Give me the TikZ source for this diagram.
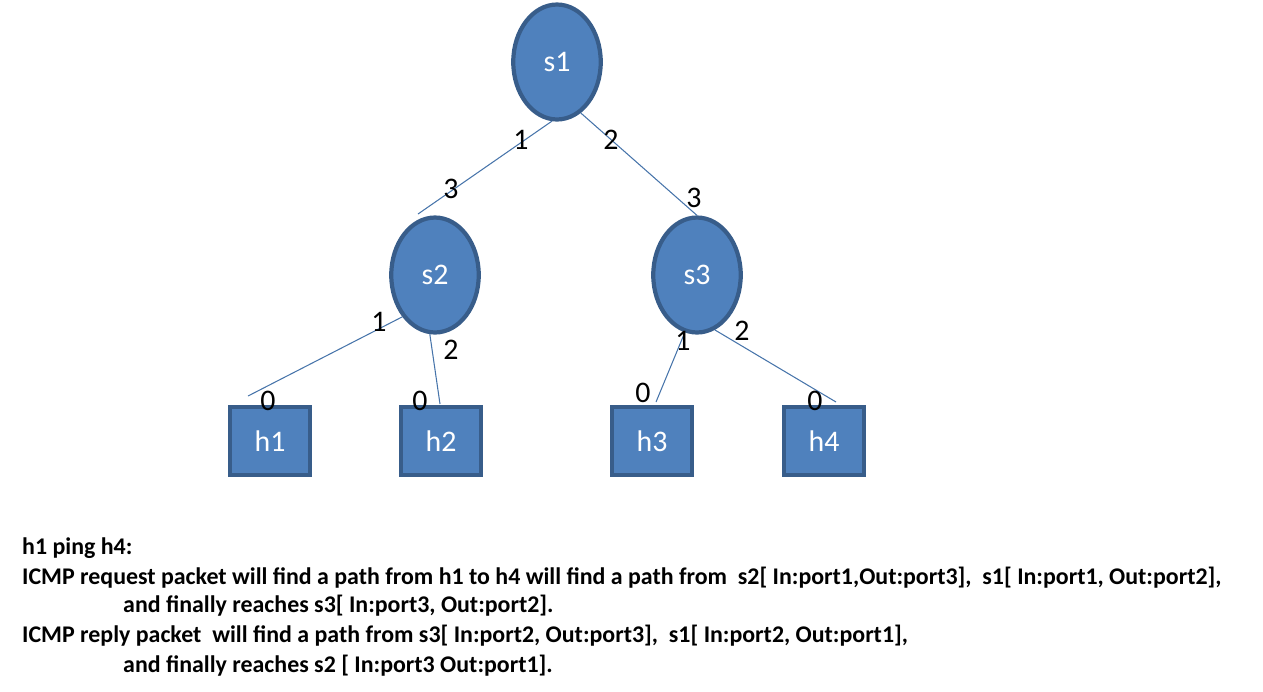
\documentclass[tikz,border=0pt]{standalone}
\usepackage{fontspec}
\setmainfont{Carlito}
\usetikzlibrary{shapes.geometric}
\definecolor{nodeblue}{HTML}{4F81BD}
\definecolor{nodeedge}{HTML}{385D8A}
\begin{document}
\begin{tikzpicture}[
        x=0.02cm, y=-0.02cm,
        switch/.style={ellipse, draw=nodeedge, line width=2.4pt, fill=nodeblue, minimum width=1.75cm, minimum height=2.3cm, text=white, font=\fontsize{17}{20}\selectfont},
        host/.style={rectangle, draw=nodeedge, line width=2.4pt, fill=nodeblue, minimum width=1.6cm, minimum height=1.35cm, text=white, font=\fontsize{17}{20}\selectfont},
        link/.style={draw=nodeblue!90!black, line width=0.6pt},
        port/.style={font=\fontsize{17}{20}\selectfont}
    ]
        \useasboundingbox (0,0) rectangle (1263,691);

        % Switches
        \node[switch] (s1) at (557,62) {s1};
        \node[switch] (s2) at (435,275) {s2};
        \node[switch] (s3) at (697,275) {s3};

        % Hosts
        \node[host] (h1) at (270,441) {h1};
        \node[host] (h2) at (441,441) {h2};
        \node[host] (h3) at (652,441) {h3};
        \node[host] (h4) at (824,441) {h4};

        % Link ends
        \coordinate (s2top) at (418,214);
        \coordinate (h1end) at (248,396);
        \coordinate (h2end) at (440,404);
        \coordinate (h3end) at (656,402);
        \coordinate (h4end) at (836,402);

        % Links
        \draw[link] (s1.265) -- (s2top);
        \draw[link] (s1.295) -- (s3.north);
        \draw[link] (s2.232) -- (h1end);
        \draw[link] (s2.265) -- (h2end);
        \draw[link] (s3.258) -- (h3end);
        \draw[link] (s3.288) -- (h4end);

        % Port numbers
        \node[port] at (521,140) {1};
        \node[port] at (611,140) {2};
        \node[port] at (451,189) {3};
        \node[port] at (694,198) {3};
        \node[port] at (379,322) {1};
        \node[port] at (451,350) {2};
        \node[port] at (683,341) {1};
        \node[port] at (742,331) {2};
        \node[port] at (268,401) {0};
        \node[port] at (420,401) {0};
        \node[port] at (643,393) {0};
        \node[port] at (815,401) {0};

        % Description
        \begin{scope}[every node/.style={anchor=west, font=\bfseries\fontsize{13.6}{16}\selectfont}]
        \node (t1) at (16,548) {h1 ping h4:};
        \node (t2) at (16,578) {ICMP request packet will find a path from h1 to h4 will find a path from~~s2[ In:port1,Out:port3],~~s1[ In:port1, Out:port2],};
        \node (t3) at (117,606) {and finally reaches s3[ In:port3, Out:port2].};
        \node (t4) at (16,636) {ICMP reply packet~~will find a path from s3[ In:port2, Out:port3],~~s1[ In:port2, Out:port1],};
        \node (t5) at (117,666) {and finally reaches s2~[ In:port3 Out:port1].};
        \end{scope}
\end{tikzpicture}
\end{document}
